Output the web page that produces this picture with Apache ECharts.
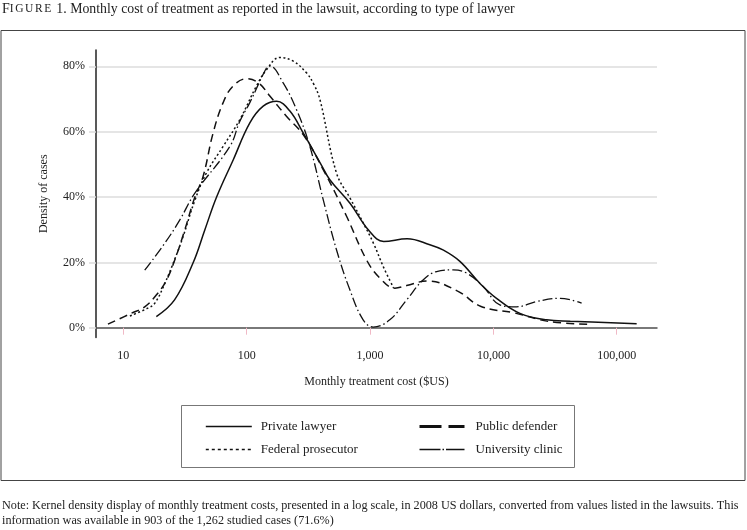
<!DOCTYPE html>
<html>
<head>
<meta charset="utf-8">
<script src="https://cdn.jsdelivr.net/npm/echarts@6/dist/echarts.min.js"></script>
<style>
html,body{margin:0;padding:0;background:#fff;}
#chart{width:747px;height:530px;}
</style>
</head>
<body>
<div id="chart"></div>
<script>
// ---- data (monthly cost in $US, density in %) ----
const xTickValues = [10, 100, 1000, 10000, 100000];
const yTickValues = [0, 20, 40, 60, 80];

const seriesNames = ['Private lawyer', 'Public defender', 'Federal prosecutor', 'University clinic'];

const privateCost    = [18.5, 26, 36.7, 45.8, 57, 78, 106, 136, 175, 224, 287, 400, 472, 690, 975, 1290, 2000, 3050, 3900, 5350, 7760, 10600, 16400, 27000, 42000, 145000];
const privateDensity = [3.4, 8.5, 19.8, 30, 40, 51.5, 62.7, 67.8, 69.3, 66.3, 59.6, 50, 45.3, 38, 29.8, 26.4, 27.2, 25.4, 23.8, 20.3, 13.6, 9, 4.4, 2.4, 2, 1.2];

const publicCost    = [7.5, 11.6, 14.9, 18.5, 22.4, 27, 31.5, 38, 44.3, 53.4, 64.4, 77.6, 99.5, 124, 154, 210, 287, 417, 645, 935, 1200, 1590, 1980, 2920, 5130, 7940, 14900, 28200, 63000];
const publicDensity = [1.1, 4.4, 6.4, 10, 14.6, 22.3, 30, 40, 46.3, 59.6, 68.9, 74, 76.2, 75, 70.9, 64.7, 59.1, 48.4, 34.1, 20.8, 15.2, 12.1, 12.9, 14.3, 11.2, 6.5, 4.5, 1.9, 1];

const federalCost    = [11.3, 15.8, 18, 21.7, 26, 30.5, 38, 47.2, 64.4, 88, 120, 145, 185, 238, 305, 350, 392, 535, 690, 885, 1070, 1290, 1550];
const federalDensity = [3.6, 6, 7.5, 13.6, 20.8, 27.9, 39, 47.4, 55.5, 63.7, 74, 79, 82.7, 81.6, 78, 74.5, 69.9, 47.3, 39.6, 31.9, 25.7, 18.4, 12.2];

const clinicCost    = [14.9, 21.7, 28.7, 38, 73, 88, 106, 145, 154, 197, 253, 325, 417, 535, 686, 879, 1060, 1445, 1980, 2690, 3465, 4720, 6070, 8270, 11270, 15400, 22400, 34700, 51900];
const clinicDensity = [17.6, 25.9, 33, 41.2, 55.5, 63.2, 68.9, 79.6, 80.1, 75, 66.8, 55.5, 39.2, 23.8, 11.6, 2.4, 0.2, 2.4, 8.5, 14.6, 17.2, 17.7, 16.7, 12.6, 7.0, 6.4, 8.0, 9.0, 7.5];

const titleText = 'Monthly cost of treatment as reported in the lawsuit, according to type of lawyer';
const noteLine1 = 'Note: Kernel density display of monthly treatment costs, presented in a log scale, in 2008 US dollars, converted from values listed in the lawsuits. This';
const noteLine2 = 'information was available in 903 of the 1,262 studied cases (71.6%)';

// ---- chart ----
const FONT = '"Liberation Serif", "DejaVu Serif", serif';
const INK = '#111';
function pairs(xs, ys) { return xs.map((x, i) => [x, ys[i]]); }

const styles = [
  { type: 'solid', width: 1.5 },
  { type: [8, 5], width: 1.5 },
  { type: [2, 2.5], width: 1.5 },
  { type: [10, 3, 1.5, 3], width: 1.3 }
];
const legendStyles = [
  { type: 'solid', width: 1.6 },
  { type: [22, 7], width: 3 },
  { type: [3, 3], width: 1.5 },
  { type: [21, 2, 1.5, 2], width: 1.3 }
];
const dataSets = [
  pairs(privateCost, privateDensity),
  pairs(publicCost, publicDensity),
  pairs(federalCost, federalDensity),
  pairs(clinicCost, clinicDensity)
];

const smallCaps = 'IGURE'.split('').map(c => '{b|' + c + '}').join('');

const legendCommon = {
  orient: 'vertical', top: 415, itemHeight: 14, itemGap: 10, selectedMode: false,
  itemStyle: { opacity: 0 }
};

const chart = echarts.init(document.getElementById('chart'), null, { renderer: 'canvas' });
chart.setOption({
  animation: false,
  backgroundColor: '#fff',
  grid: { left: 96, right: 90, top: 50, bottom: 192.5, containLabel: false },
  xAxis: {
    type: 'log', logBase: 10, min: 6, max: 212000,
    name: 'Monthly treatment cost ($US)', nameLocation: 'middle', nameGap: 38,
    nameTextStyle: { fontFamily: FONT, fontSize: 12, color: '#222' },
    axisLine: { show: true, lineStyle: { color: '#555', width: 1.5 } },
    axisTick: { show: true, customValues: xTickValues, length: 7, lineStyle: { color: '#f0b9c6', width: 1 } },
    axisLabel: { customValues: xTickValues, margin: 12, fontFamily: FONT, fontSize: 12, color: '#222',
      formatter: v => Math.round(v).toLocaleString('en-US') },
    splitLine: { show: false }, minorTick: { show: false }, minorSplitLine: { show: false }
  },
  yAxis: {
    type: 'value', min: -3, max: 85,
    name: 'Density of cases', nameLocation: 'middle', nameGap: 46,
    nameTextStyle: { fontFamily: FONT, fontSize: 12, color: '#222' },
    axisLine: { show: true, lineStyle: { color: '#222', width: 1.5 } },
    axisTick: { show: true, customValues: yTickValues, length: 7, lineStyle: { color: '#dcdcdc', width: 1.5 } },
    axisLabel: { customValues: yTickValues, margin: 11, fontFamily: FONT, fontSize: 12, color: '#222', formatter: '{value}%' },
    splitLine: { show: true, lineStyle: { color: '#dcdcdc', width: 1.5 } }
  },
  legend: [
    Object.assign({}, legendCommon, {
      left: 200, itemWidth: 46,
      data: [
        { name: seriesNames[0], lineStyle: legendStyles[0] },
        { name: seriesNames[2], lineStyle: legendStyles[2] }
      ],
      textStyle: { fontFamily: FONT, fontSize: 13, color: '#222', padding: [0, 0, 0, 4] }
    }),
    Object.assign({}, legendCommon, {
      left: 413, itemWidth: 45,
      data: [
        { name: seriesNames[1], lineStyle: legendStyles[1] },
        { name: seriesNames[3], lineStyle: legendStyles[3] }
      ],
      textStyle: { fontFamily: FONT, fontSize: 13, color: '#222', padding: [0, 0, 0, 6] }
    })
  ],
  series: seriesNames.map((n, i) => ({
    name: n, type: 'line', data: dataSets[i], smooth: 0.4,
    symbol: 'none', showSymbol: false, color: INK,
    lineStyle: Object.assign({ color: INK }, styles[i]), z: 3
  })),
  graphic: [
    { type: 'rect', shape: { x: 1, y: 30.5, width: 744, height: 450 }, style: { fill: 'none', stroke: '#444', lineWidth: 1 }, silent: true },
    { type: 'rect', shape: { x: 181.5, y: 405.5, width: 393, height: 62 }, style: { fill: 'none', stroke: '#777', lineWidth: 1 }, silent: true },
    { type: 'text', left: 2, top: 2, style: {
        text: '{a|F}' + smallCaps + '{c| 1. ' + titleText + '}',
        rich: {
          a: { fontFamily: FONT, fontSize: 14, fill: '#222' },
          b: { fontFamily: FONT, fontSize: 11.5, fill: '#222', padding: [0, 1.6, 0, 0] },
          c: { fontFamily: FONT, fontSize: 13.8, fill: '#222' }
        } } },
    { type: 'text', left: 2, top: 498, style: { text: noteLine1 + '\n' + noteLine2, fontFamily: FONT, fontSize: 12.2, lineHeight: 15, fill: '#222' } }
  ]
});
</script>
</body>
</html>
